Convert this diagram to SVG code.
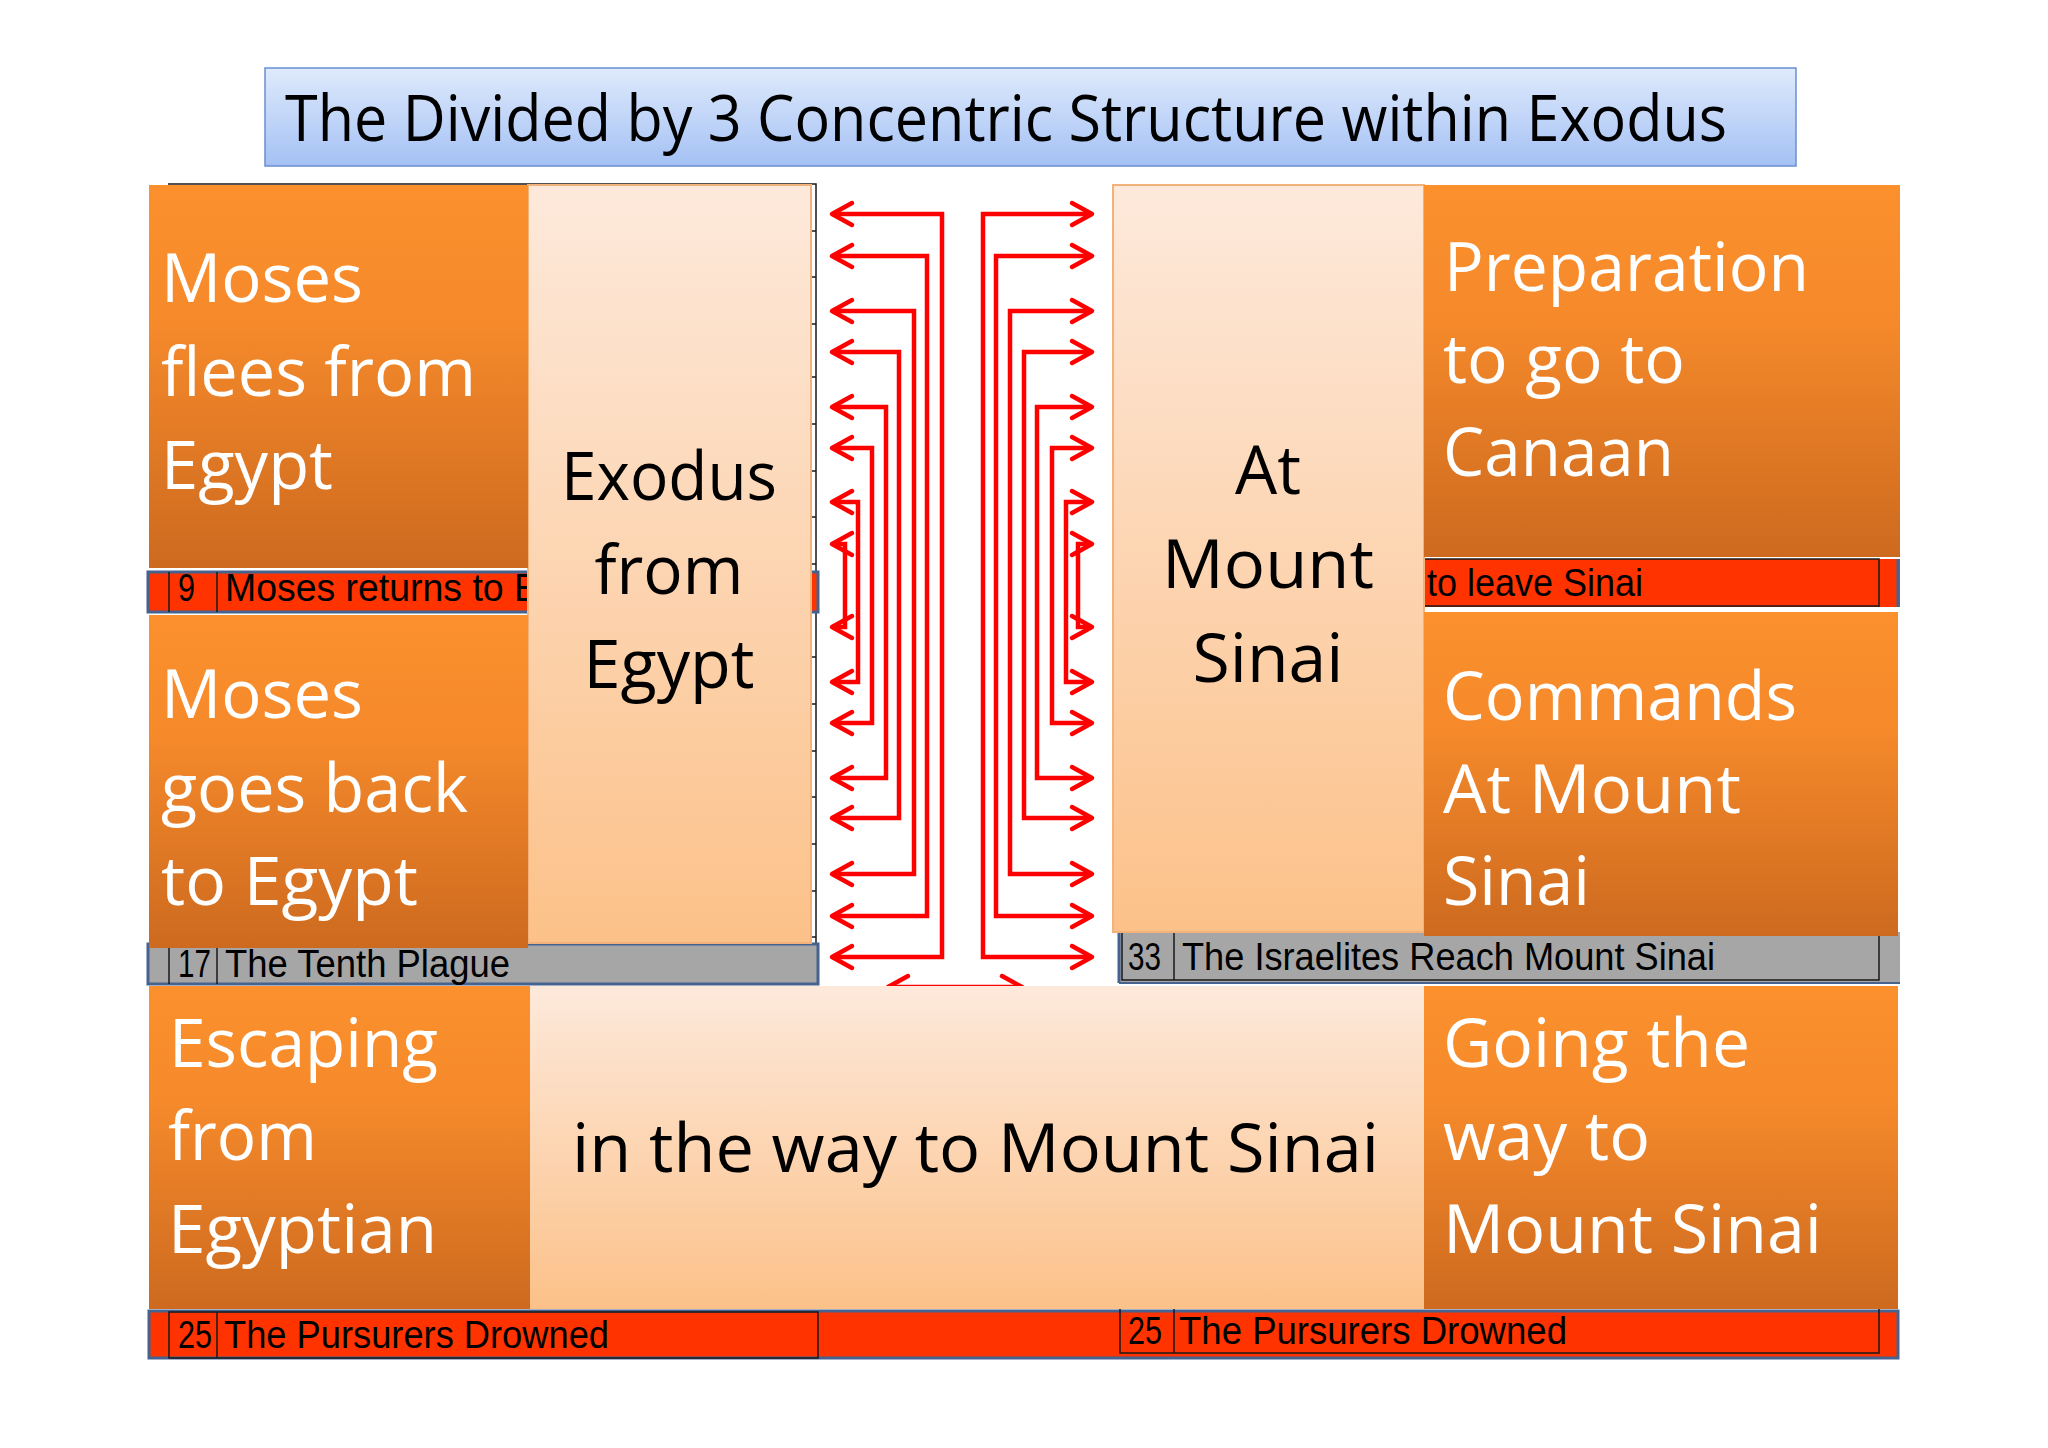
<svg xmlns="http://www.w3.org/2000/svg" width="2048" height="1448" viewBox="0 0 2048 1448">
<defs>
<linearGradient id="gTitle" x1="0" y1="0" x2="0" y2="1"><stop offset="0" stop-color="#dfeafc"/><stop offset="1" stop-color="#a4c1f4"/></linearGradient>
<linearGradient id="gOrange" x1="0" y1="0" x2="0" y2="1"><stop offset="0" stop-color="#fb902d"/><stop offset="0.35" stop-color="#f68a2b"/><stop offset="1" stop-color="#cd6a1f"/></linearGradient>
<linearGradient id="gLight" x1="0" y1="0" x2="0" y2="1"><stop offset="0" stop-color="#fde9db"/><stop offset="1" stop-color="#fcc189"/></linearGradient>
<marker id="ah" markerUnits="userSpaceOnUse" viewBox="0 0 30 30" markerWidth="30" markerHeight="30" refX="25" refY="15" orient="auto-start-reverse"><path d="M5 4 L25 15 L5 26" fill="none" stroke="#ff0000" stroke-width="4.5" stroke-linecap="round" stroke-linejoin="round"/></marker>
</defs>
<style>
.big{font-family:"Open Sans","Noto Sans",sans-serif;font-size:68px}
.w{fill:#ffffff}
.k{fill:#000000}
.cell{font-family:"Liberation Sans",Arial,sans-serif;font-size:38px;fill:#000000}
.org{fill:url(#gOrange)}
.lt{fill:url(#gLight);stroke:#f3b27a;stroke-width:2}
.red{fill:#ff3300}
.gray{fill:#a6a6a6}
.bd{fill:none;stroke:#46628f;stroke-width:3}
.ln{stroke:#1a1a1a;stroke-width:1.5;fill:none}
.arr{fill:none;stroke:#ff0000;stroke-width:4.5;stroke-linejoin:miter;marker-start:url(#ah);marker-end:url(#ah)}
</style>
<rect x="0" y="0" width="2048" height="1448" fill="#ffffff"/>

<g id="title">
<rect x="265" y="68" width="1531" height="98" fill="url(#gTitle)" stroke="#6a8fd0" stroke-width="1.5"/>
<text x="285" y="141" font-family="'Open Sans','Noto Sans',sans-serif" font-size="64" fill="#000" textLength="1442" lengthAdjust="spacingAndGlyphs">The Divided by 3 Concentric Structure within Exodus</text>
</g>

<g id="grid-left">
<path class="ln" d="M168 184 H816 V944"/>
<path class="ln" d="M811 231 H816 M811 277 H816 M811 324 H816 M811 377 H816 M811 424 H816 M811 471 H816 M811 517 H816 M811 564 H816 M811 657 H816 M811 704 H816 M811 751 H816 M811 797 H816 M811 844 H816 M811 891 H816 M811 937 H816"/>
</g>

<g id="row-9">
<rect class="red" x="148" y="572" width="670" height="40"/>
<rect class="bd" x="148" y="572" width="670" height="40"/>
<line class="ln" x1="169" y1="572" x2="169" y2="612"/>
<line class="ln" x1="217" y1="572" x2="217" y2="612"/>
<text class="cell" x="178" y="601" textLength="17" lengthAdjust="spacingAndGlyphs">9</text>
<text class="cell" x="225" y="601" textLength="314" lengthAdjust="spacingAndGlyphs">Moses returns to E</text>
</g>

<g id="row-17">
<rect class="gray" x="148" y="944" width="670" height="40"/>
<rect class="bd" x="148" y="944" width="670" height="40"/>
<line class="ln" x1="169" y1="944" x2="169" y2="984"/>
<line class="ln" x1="217" y1="944" x2="217" y2="984"/>
<text class="cell" x="178" y="977" textLength="33" lengthAdjust="spacingAndGlyphs">17</text>
<text class="cell" x="225" y="977" textLength="285" lengthAdjust="spacingAndGlyphs">The Tenth Plague</text>
</g>

<g id="row-leave">
<rect class="red" x="1424" y="559" width="476" height="48"/>
<line x1="1898" y1="559" x2="1898" y2="607" stroke="#46628f" stroke-width="3"/>
<path class="ln" d="M1424 559 H1879 V607 M1424 606 H1879"/>
<text class="cell" x="1427" y="596" textLength="216" lengthAdjust="spacingAndGlyphs">to leave Sinai</text>
</g>

<g id="row-33">
<rect class="gray" x="1119" y="932" width="781" height="51"/>
<line x1="1119" y1="932" x2="1119" y2="983" stroke="#46628f" stroke-width="3"/>
<line x1="1119" y1="983" x2="1900" y2="983" stroke="#46628f" stroke-width="2"/>
<path class="ln" d="M1122 932 V980 H1879 V932 M1174 932 V980"/>
<text class="cell" x="1128" y="970" textLength="33" lengthAdjust="spacingAndGlyphs">33</text>
<text class="cell" x="1182" y="970" textLength="533" lengthAdjust="spacingAndGlyphs">The Israelites Reach Mount Sinai</text>
</g>

<g id="row-25">
<rect class="red" x="149" y="1311" width="1749" height="47"/>
<rect class="bd" x="149" y="1311" width="1749" height="47"/>
<rect class="ln" x="169" y="1312" width="649" height="46"/>
<line class="ln" x1="217" y1="1312" x2="217" y2="1358"/>
<text class="cell" x="178" y="1348" textLength="34" lengthAdjust="spacingAndGlyphs">25</text>
<text class="cell" x="224" y="1348" textLength="385" lengthAdjust="spacingAndGlyphs">The Pursurers Drowned</text>
<rect class="ln" x="1120" y="1300" width="759" height="53"/>
<line class="ln" x1="1174" y1="1300" x2="1174" y2="1353"/>
<text class="cell" x="1128" y="1344" textLength="34" lengthAdjust="spacingAndGlyphs">25</text>
<text class="cell" x="1179" y="1344" textLength="388" lengthAdjust="spacingAndGlyphs">The Pursurers Drowned</text>
</g>

<g id="connectors">
<path class="arr" d="M832 214 H942 V957 H832"/>
<path class="arr" d="M832 256 H927 V916 H832"/>
<path class="arr" d="M832 311 H914 V874 H832"/>
<path class="arr" d="M832 352 H899 V818 H832"/>
<path class="arr" d="M832 407 H886 V778 H832"/>
<path class="arr" d="M832 448 H872 V723 H832"/>
<path class="arr" d="M832 502 H858 V682 H832"/>
<path class="arr" d="M832 544 H845 V627 H832"/>
<path class="arr" d="M1092 214 H983 V957 H1092"/>
<path class="arr" d="M1092 256 H996 V916 H1092"/>
<path class="arr" d="M1092 311 H1010 V874 H1092"/>
<path class="arr" d="M1092 352 H1024 V818 H1092"/>
<path class="arr" d="M1092 407 H1037 V778 H1092"/>
<path class="arr" d="M1092 448 H1052 V723 H1092"/>
<path class="arr" d="M1092 502 H1066 V682 H1092"/>
<path class="arr" d="M1092 544 H1078 V627 H1092"/>
<path class="arr" d="M888 987 H1022"/>
</g>

<g id="exodus-from-egypt">
<rect class="lt" x="528" y="185" width="283" height="758"/>
<text class="big k" x="669" y="500" text-anchor="middle" textLength="216" lengthAdjust="spacingAndGlyphs">Exodus</text>
<text class="big k" x="669" y="594" text-anchor="middle" textLength="149" lengthAdjust="spacingAndGlyphs">from</text>
<text class="big k" x="669" y="688" text-anchor="middle" textLength="171" lengthAdjust="spacingAndGlyphs">Egypt</text>
</g>

<g id="at-mount-sinai">
<rect class="lt" x="1113" y="185" width="311" height="747"/>
<text class="big k" x="1268" y="494" text-anchor="middle" textLength="66" lengthAdjust="spacingAndGlyphs">At</text>
<text class="big k" x="1268" y="588" text-anchor="middle" textLength="212" lengthAdjust="spacingAndGlyphs">Mount</text>
<text class="big k" x="1268" y="682" text-anchor="middle" textLength="151" lengthAdjust="spacingAndGlyphs">Sinai</text>
</g>

<g id="moses-flees">
<rect class="org" x="149" y="185" width="379" height="383"/>
<text class="big w" x="161" y="302" textLength="202" lengthAdjust="spacingAndGlyphs">Moses</text>
<text class="big w" x="161" y="396" textLength="315" lengthAdjust="spacingAndGlyphs">flees from</text>
<text class="big w" x="161" y="489" textLength="172" lengthAdjust="spacingAndGlyphs">Egypt</text>
</g>

<g id="moses-goes-back">
<rect class="org" x="149" y="615" width="379" height="333"/>
<text class="big w" x="161" y="718" textLength="202" lengthAdjust="spacingAndGlyphs">Moses</text>
<text class="big w" x="161" y="812" textLength="307" lengthAdjust="spacingAndGlyphs">goes back</text>
<text class="big w" x="161" y="905" textLength="257" lengthAdjust="spacingAndGlyphs">to Egypt</text>
</g>

<g id="preparation">
<rect class="org" x="1424" y="185" width="476" height="372"/>
<text class="big w" x="1444" y="291" textLength="365" lengthAdjust="spacingAndGlyphs">Preparation</text>
<text class="big w" x="1443" y="383" textLength="242" lengthAdjust="spacingAndGlyphs">to go to</text>
<text class="big w" x="1443" y="476" textLength="231" lengthAdjust="spacingAndGlyphs">Canaan</text>
</g>

<g id="commands">
<rect class="org" x="1424" y="612" width="474" height="324"/>
<text class="big w" x="1443" y="720" textLength="354" lengthAdjust="spacingAndGlyphs">Commands</text>
<text class="big w" x="1443" y="813" textLength="298" lengthAdjust="spacingAndGlyphs">At Mount</text>
<text class="big w" x="1443" y="905" textLength="147" lengthAdjust="spacingAndGlyphs">Sinai</text>
</g>

<g id="in-the-way">
<rect x="530" y="986" width="894" height="323" fill="url(#gLight)"/>
<text class="big k" x="572" y="1172" textLength="807" lengthAdjust="spacingAndGlyphs">in the way to Mount Sinai</text>
</g>

<g id="escaping">
<rect class="org" x="149" y="986" width="381" height="323"/>
<text class="big w" x="169" y="1067" textLength="269" lengthAdjust="spacingAndGlyphs">Escaping</text>
<text class="big w" x="168" y="1160" textLength="149" lengthAdjust="spacingAndGlyphs">from</text>
<text class="big w" x="168" y="1253" textLength="269" lengthAdjust="spacingAndGlyphs">Egyptian</text>
</g>

<g id="going-the-way">
<rect class="org" x="1424" y="986" width="474" height="323"/>
<text class="big w" x="1443" y="1067" textLength="307" lengthAdjust="spacingAndGlyphs">Going the</text>
<text class="big w" x="1443" y="1160" textLength="207" lengthAdjust="spacingAndGlyphs">way to</text>
<text class="big w" x="1443" y="1253" textLength="379" lengthAdjust="spacingAndGlyphs">Mount Sinai</text>
</g>
</svg>
